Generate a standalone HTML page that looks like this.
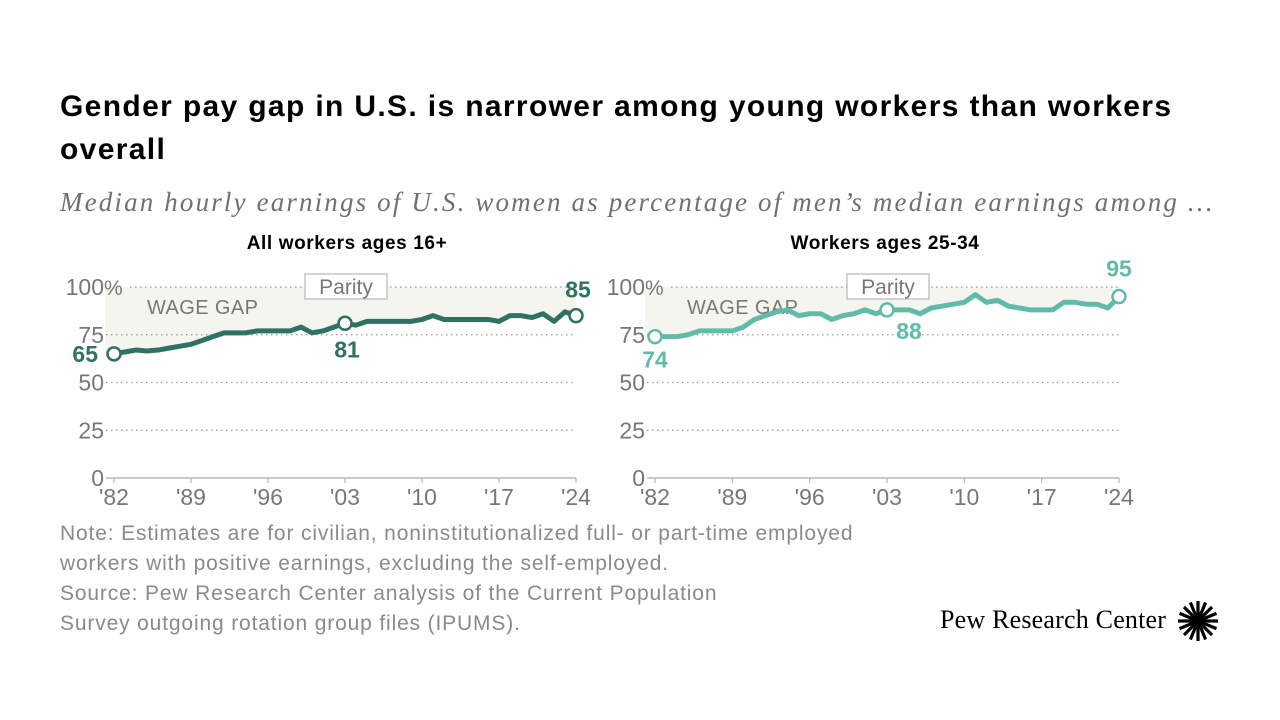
<!DOCTYPE html>
<html><head><meta charset="utf-8"><style>
body{margin:0;width:1280px;height:720px;background:#fff;font-family:"Liberation Sans",sans-serif;overflow:hidden;position:relative}
.t{position:absolute;white-space:nowrap}
</style></head><body>
<div class="t" style="left:60px;top:85px;font-size:30px;letter-spacing:1.35px;font-weight:bold;line-height:43px;color:#000">Gender pay gap in U.S. is narrower among young workers than workers<br>overall</div>
<div class="t" style="left:60px;top:187px;font-family:'Liberation Serif',serif;font-style:italic;font-size:27px;letter-spacing:2.15px;color:#707070">Median hourly earnings of U.S. women as percentage of men’s median earnings among …</div>
<svg id="c" width="1280" height="720" style="position:absolute;left:0;top:0"></svg>
<div class="t" style="left:60px;top:519px;font-size:21px;letter-spacing:0.85px;line-height:30px;color:#8a8a8a">Note: Estimates are for civilian, noninstitutionalized full- or part-time employed<br>workers with positive earnings, excluding the self-employed.<br>Source: Pew Research Center analysis of the Current Population<br>Survey outgoing rotation group files (IPUMS).</div>
<div class="t" style="left:940px;top:605px;font-family:'Liberation Serif',serif;font-size:26px;letter-spacing:0.2px;color:#000">Pew Research Center</div>
<svg width="42" height="42" style="position:absolute;left:1177px;top:600px" viewBox="-21 -21 42 42">
<g stroke="#000" stroke-width="3.2"><line x1="0" y1="-20" x2="0" y2="20"/><line x1="-20" y1="0" x2="20" y2="0"/><line x1="-14" y1="-14" x2="14" y2="14"/><line x1="-14" y1="14" x2="14" y2="-14"/><line x1="-7.6" y1="-18.5" x2="7.6" y2="18.5"/><line x1="7.6" y1="-18.5" x2="-7.6" y2="18.5"/><line x1="-18.5" y1="-7.6" x2="18.5" y2="7.6"/><line x1="-18.5" y1="7.6" x2="18.5" y2="-7.6"/></g><circle r="5" fill="#000"/></svg>
<script>
const years=[];for(let y=1982;y<=2024;y++)years.push(y);
const allWorkers=[65,66,67,66.5,67,68,69,70,72,74,76,76,76,77,77,77,77,79,76,77,79,81,80,82,82,82,82,82,83,85,83,83,83,83,83,82,85,85,84,86,82,87,85];
const youngWorkers=[74,74,74,75,77,77,77,77,79,83,85,87,88,85,86,86,83,85,86,88,86,88,88,88,86,89,90,91,92,96,92,93,90,89,88,88,88,92,92,91,91,89,95];
const yTicks=[0,25,50,75,100];
const yTickLabels=['0','25','50','75','100'];
const xTicks=[1982,1989,1996,2003,2010,2017,2024];
const xTickLabels=["'82","'89","'96","'03","'10","'17","'24"];
const svg=document.getElementById('c');const NS='http://www.w3.org/2000/svg';
function mk(t,a,p){const e=document.createElementNS(NS,t);for(const k in a)e.setAttribute(k,a[k]);(p||svg).appendChild(e);return e;}
const yS=v=>478-v*1.91;
function panel(id,data,x0,x1,color,title,tcx,labels,shadeL){
 const xS=y=>x0+(y-1982)*(x1-x0)/42;
 const g=mk('g',{});
 const t=mk('text',{x:tcx,y:249,'text-anchor':'middle','font-size':19,'letter-spacing':'0.6','font-weight':'bold',fill:'#000'},g);t.textContent=title;
 let d='M'+shadeL+','+yS(100)+' L'+x1+','+yS(100);
 for(let i=data.length-1;i>=0;i--)d+=' L'+xS(years[i])+','+yS(data[i]);
 d+=' L'+shadeL+','+yS(data[0])+'Z';
 const sh=mk('path',{d:d,fill:'#f5f5f0'},g);
 yTicks.forEach((v,i)=>{
  if(v>0){const l=mk('line',{x1:v==100?x0+16:x0-8,x2:x1,y1:yS(v),y2:yS(v),stroke:'#999','stroke-dasharray':'1.5 3.5','stroke-width':1.2},g);}
  const tx=mk('text',{x:x0-10,y:yS(v)+8,'text-anchor':'end','font-size':23,fill:'#777'},g);tx.textContent=yTickLabels[i];
  if(v==100){const pc=mk('text',{x:x0-10,y:yS(v)+8,'font-size':21,fill:'#777'},g);pc.textContent='%';}
 });
 const ax=mk('line',{x1:x0-8,x2:x1,y1:yS(0),y2:yS(0),stroke:'#aaa','stroke-width':1.2},g);
 xTicks.forEach((v,i)=>{
  mk('line',{x1:xS(v),x2:xS(v),y1:yS(0),y2:yS(0)+5,stroke:'#aaa'},g);
  const tx=mk('text',{x:xS(v),y:yS(0)+27,'text-anchor':'middle','font-size':23,fill:'#777'},g);tx.textContent=xTickLabels[i];
 });
 const gp=mk('text',{x:shadeL+42,y:314,'font-size':20,'letter-spacing':'0.4',fill:'#777'},g);gp.textContent='WAGE GAP';
 const px=xS(2003);
 const rb=mk('rect',{x:px-40,y:274,width:82,height:25,fill:'#fff',stroke:'#aaa'},g);
 const pt=mk('text',{x:px+1,y:294,'text-anchor':'middle','font-size':21,fill:'#777'},g);pt.textContent='Parity';
 const ln=mk('polyline',{points:data.map((v,i)=>xS(years[i])+','+yS(v)).join(' '),fill:'none',stroke:color,'stroke-width':5,'stroke-linejoin':'round'},g);
 labels.forEach(L=>{
  const i=years.indexOf(L.yr);
  const c=mk('circle',{cx:xS(L.yr),cy:yS(data[i]),r:6.5,fill:'#fff',stroke:color,'stroke-width':2.5},g);
  const tx=mk('text',{x:xS(L.yr)+L.dx,y:yS(data[i])+L.dy,'text-anchor':L.a,'font-size':23,'font-weight':'bold',fill:color},g);tx.textContent=Math.round(data[i]);
 });
}
panel('all-workers-chart',allWorkers,114,576,'#2f7261','All workers ages 16+',347,[{yr:1982,dx:-16,dy:8,a:'end'},{yr:2003,dx:2,dy:34,a:'middle'},{yr:2024,dx:2,dy:-18,a:'middle'}],105);
panel('young-workers-chart',youngWorkers,655,1119,'#62bba9','Workers ages 25-34',885,[{yr:1982,dx:0,dy:31,a:'middle'},{yr:2003,dx:22,dy:29,a:'middle'},{yr:2024,dx:0,dy:-20,a:'middle'}],645);
</script>
</body></html>
